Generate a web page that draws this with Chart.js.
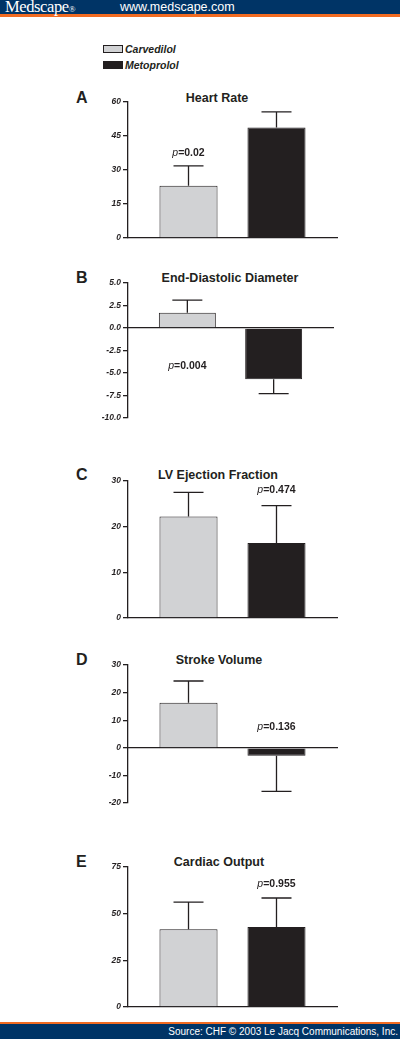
<!DOCTYPE html>
<html>
<head>
<meta charset="utf-8">
<script src="https://cdn.jsdelivr.net/npm/chart.js@4.4.0/dist/chart.umd.min.js"></script>
<style>
  body { margin: 0; background: #fff; font-family: "Liberation Sans", Arial, sans-serif; }
  #page { position: relative; width: 400px; height: 1039px; overflow: hidden; }
  .bar-top { position: absolute; left: 0; top: 0; width: 400px; height: 14px; background: #003466; border-bottom: 3px solid #f26b21; }
  .bar-bottom { position: absolute; left: 0; top: 1022px; width: 400px; height: 15px; background: #003466; border-top: 2px solid #f26b21; }
  .brand { position: absolute; left: 5px; top: -3px; color: #fff; font: 16.5px "Liberation Serif", serif; letter-spacing: -0.4px; }
  .brand sup { font-size: 9px; vertical-align: 0; }
  .site { position: absolute; left: 120px; top: 0px; color: #fff; font-size: 12.5px; line-height: 14px; }
  .source { position: absolute; right: 2px; top: 1px; color: #fff; font-size: 10px; line-height: 14px; }
  .swatch { position: absolute; left: 103px; width: 20px; height: 8px; box-sizing: border-box; border: 1px solid #231f20; }
  .legend-text { position: absolute; left: 125px; font-size: 10.5px; font-weight: bold; font-style: italic; color: #231f20; line-height: 12px; }
  .letter { position: absolute; left: 76px; font-size: 16px; font-weight: bold; color: #231f20; line-height: 16px; }
  .title { position: absolute; width: 300px; text-align: center; font-size: 12.5px; font-weight: bold; color: #231f20; line-height: 14px; }
  canvas { position: absolute; }
</style>
</head>
<body>
<div id="page">
  <div class="bar-top">
    <div class="brand">Medscape<sup>®</sup></div>
    <div class="site">www.medscape.com</div>
  </div>
  <div class="swatch" style="top:45px;background:#d1d2d4"></div>
  <div class="legend-text" style="top:43px">Carvedilol</div>
  <div class="swatch" style="top:61px;background:#231f20"></div>
  <div class="legend-text" style="top:59px">Metoprolol</div>
  <div class="bar-bottom">
    <div class="source">Source: CHF © 2003 Le Jacq Communications, Inc.</div>
  </div>
</div>
<script>
const groups = ['Carvedilol', 'Metoprolol'];
const panelLetters = ['A', 'B', 'C', 'D', 'E'];
const panelTitles = ['Heart Rate', 'End-Diastolic Diameter', 'LV Ejection Fraction', 'Stroke Volume', 'Cardiac Output'];
const carvedilolMean = [23.0, 1.7, 22.2, 16.3, 41.7];
const carvedilolSem = [8.8, 1.4, 5.3, 7.9, 14.5];
const metoprololMean = [48.7, -5.7, 16.4, -2.9, 42.9];
const metoprololSem = [6.9, 1.6, 8.2, 12.9, 15.5];
const yMin = [0, -10, 0, -20, 0];
const yMax = [60, 5, 30, 30, 75];
const yStep = [15, 2.5, 10, 10, 25];
const yDecimals = [0, 1, 0, 0, 0];
const pValues = ['0.02', '0.004', '0.474', '0.136', '0.955'];
const pOverBar = [0, 0, 1, 1, 1];
const pAtValue = [37.4, -4.2, 28.0, 7.4, 65.9];

// page layout (pixels)
const plotTop = [102, 283, 481, 665, 867];
const plotBottom = [238, 418, 618, 803, 1007];
const plotRight = [337, 333, 337, 337, 337];
const titleY = [98, 278, 475, 660, 862];
const titleX = [217, 230, 218, 219, 219];

const ink = '#231f20';
const fontFamily = '"Liberation Sans", Arial, sans-serif';

// error bars drawn from the bar end outward
const errorBars = {
    id: 'errorBars',
    afterDatasetsDraw(chart, args, opts) {
        const ctx = chart.ctx;
        const yScale = chart.scales.y;
        ctx.save();
        ctx.strokeStyle = ink;
        ctx.lineWidth = 1.3;
        chart.data.datasets.forEach((ds, di) => {
            chart.getDatasetMeta(di).data.forEach((bar, i) => {
                const v = ds.data[i];
                const e = opts.sem[di][i];
                const end = yScale.getPixelForValue(v >= 0 ? v + e : v - e);
                ctx.beginPath();
                ctx.moveTo(bar.x, bar.y);
                ctx.lineTo(bar.x, end);
                ctx.moveTo(bar.x - 15, end);
                ctx.lineTo(bar.x + 15, end);
                ctx.stroke();
            });
        });
        ctx.restore();
    }
};

// p-value text, italic p then bold value
const pLabel = {
    id: 'pLabel',
    afterDatasetsDraw(chart, args, opts) {
        const ctx = chart.ctx;
        const bar = chart.getDatasetMeta(opts.bar).data[0];
        const y = chart.scales.y.getPixelForValue(opts.value);
        const pFont = 'italic 10.5px ' + fontFamily;
        const vFont = 'bold 10.5px ' + fontFamily;
        const rest = '=' + opts.text;
        ctx.save();
        ctx.fillStyle = ink;
        ctx.textBaseline = 'middle';
        ctx.font = pFont;
        const w1 = ctx.measureText('p').width;
        ctx.font = vFont;
        const w2 = ctx.measureText(rest).width;
        let x = bar.x - (w1 + w2) / 2;
        ctx.font = pFont;
        ctx.fillText('p', x, y);
        ctx.font = vFont;
        ctx.fillText(rest, x + w1, y);
        ctx.restore();
    }
};

const page = document.getElementById('page');

for (let k = 0; k < panelTitles.length; k++) {
    const letter = document.createElement('div');
    letter.className = 'letter';
    letter.textContent = panelLetters[k];
    letter.style.top = (titleY[k] - 8) + 'px';
    page.appendChild(letter);

    const title = document.createElement('div');
    title.className = 'title';
    title.textContent = panelTitles[k];
    title.style.left = (titleX[k] - 150) + 'px';
    title.style.top = (titleY[k] - 7) + 'px';
    page.appendChild(title);

    const pad = 12;
    const canvas = document.createElement('canvas');
    canvas.width = 270;
    canvas.height = plotBottom[k] - plotTop[k] + pad * 2;
    canvas.style.left = '80px';
    canvas.style.top = (plotTop[k] - pad) + 'px';
    page.appendChild(canvas);

    new Chart(canvas.getContext('2d'), {
        type: 'bar',
        data: {
            labels: [''],
            datasets: [{
                label: groups[0],
                data: [carvedilolMean[k]],
                backgroundColor: '#d1d2d4',
                borderColor: ink,
                borderWidth: 1
            }, {
                label: groups[1],
                data: [metoprololMean[k]],
                backgroundColor: ink,
                borderColor: ink,
                borderWidth: 1
            }]
        },
        options: {
            responsive: false,
            animation: false,
            categoryPercentage: 0.842,
            barPercentage: 0.66,
            layout: { padding: { top: pad, bottom: pad, left: 0, right: 350 - plotRight[k] } },
            scales: {
                x: {
                    position: { y: 0 },
                    grid: { display: false },
                    ticks: { display: false },
                    border: { display: true, color: ink, width: 1.3 }
                },
                y: {
                    min: yMin[k],
                    max: yMax[k],
                    afterFit: scale => { scale.width = 48; },
                    ticks: {
                        stepSize: yStep[k],
                        padding: 2,
                        color: ink,
                        font: { family: fontFamily, size: 8.5, weight: 'bold', style: 'italic' },
                        callback: v => Number(v).toFixed(yDecimals[k])
                    },
                    grid: { drawOnChartArea: false, drawTicks: true, tickLength: 5, color: ink, lineWidth: 1.3 },
                    border: { display: true, color: ink, width: 1.3 }
                }
            },
            plugins: {
                legend: { display: false },
                tooltip: { enabled: false },
                errorBars: { sem: [[carvedilolSem[k]], [metoprololSem[k]]] },
                pLabel: { bar: pOverBar[k], value: pAtValue[k], text: pValues[k] }
            }
        },
        plugins: [errorBars, pLabel]
    });
}
</script>
</body>
</html>
